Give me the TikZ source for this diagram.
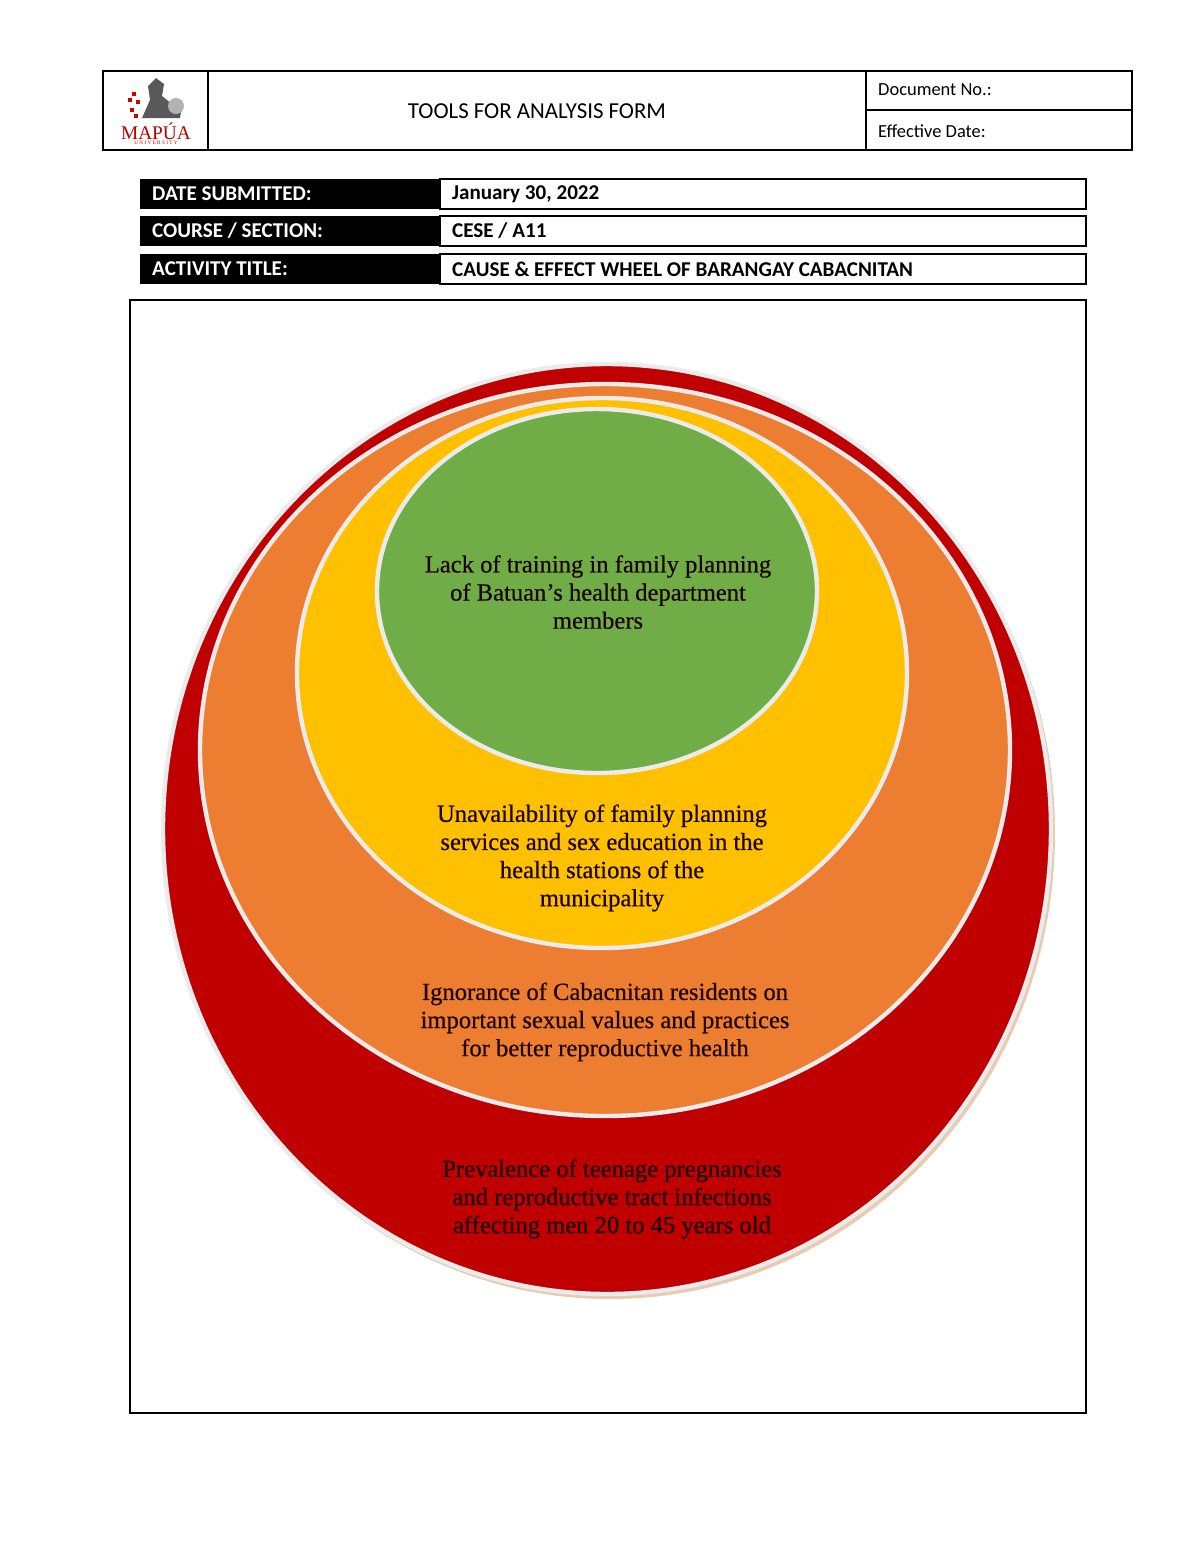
\documentclass[tikz,border=0pt]{standalone}
\usepackage{fontspec}
\setmainfont{Carlito}
\newfontfamily\serifc{Liberation Serif}
\newfontfamily\serifm[FakeBold=0.6]{Liberation Serif}
\definecolor{cred}{HTML}{C00000}
\definecolor{corange}{HTML}{ED7D31}
\definecolor{cyellow}{HTML}{FFC000}
\definecolor{cgreen}{HTML}{70AD47}
\definecolor{ctext}{HTML}{1E0505}
\begin{document}
\begin{tikzpicture}[x=0.02cm,y=-0.02cm,
  lab/.style={font=\serifm\fontsize{14}{16}\selectfont, text=ctext, align=center},
  ring/.style={draw=white!92!black, line width=2.5pt},
  hdr/.style={font=\fontsize{10.5}{12}\selectfont, anchor=west},
  wht/.style={draw=black, line width=1.2pt},
  info/.style={font=\fontsize{12}{14}\selectfont\bfseries, anchor=west}]
\useasboundingbox (0,0) rectangle (1200,1553);
\fill[white] (0,0) rectangle (1200,1553);
% header
\draw[line width=1.2pt] (103,71) rectangle (1132,150);
\draw[line width=1.2pt] (208,71) -- (208,150) (866,71) -- (866,150) (866,110) -- (1132,110);
\node[font=\fontsize{13}{15}\selectfont] (title) at (537,111) {TOOLS FOR ANALYSIS FORM};
\node[hdr] (docno) at (872,90) {Document No.:};
\node[hdr] (eff) at (872,131) {Effective Date:};
% logo
\fill[gray!70!black] (142,118) -- (150,100) -- (148,86) -- (156,78) -- (164,84) -- (162,96) -- (172,104) -- (182,106) -- (180,118) -- cycle;
\fill[gray!60] (176,106) circle (8);
\foreach \i/\j in {132/92,136/100,130/108,134/114,128/98} \fill[red!80!black] (\i,\j) rectangle ++(4,4);
\node[font=\serifc\fontsize{11}{11}\selectfont, text=red!75!black, inner sep=0pt] (logo) at (156,131) {MAPÚA};
\node[font=\serifc\fontsize{3}{3}\selectfont, text=red!75!black, inner sep=0pt] (logo2) at (156,143) {U N I V E R S I T Y};
% info rows
\foreach \y/\a/\b [count=\k] in {179/{DATE SUBMITTED:}/{January 30, 2022},216/{COURSE / SECTION:}/{CESE / A11},254/{ACTIVITY TITLE:}/{CAUSE \& EFFECT WHEEL OF BARANGAY CABACNITAN}}{
  \fill[black] (140,\y) rectangle (440,\y+30);
  \draw[wht] (440,\y) rectangle (1086,\y+30);
  \node[info, text=white] (l\k) at (146,\y+15) {\a};
  \node[info] (v\k) at (446,\y+15) {\b};
}
% frame
\draw[line width=0.8pt] (130,300) rectangle (1086,1413);
% rings
\fill[brown!40] (610,833) ellipse (445 and 466);
\draw[ring, fill=cred] (607,829) ellipse (444 and 465);
\draw[ring, fill=corange] (605,750) ellipse (405 and 366);
\draw[ring, fill=cyellow] (602,673) ellipse (305 and 275);
\draw[ring, fill=cgreen] (597,591) ellipse (220 and 182);
\node[lab] (t1) at (598,592) {Lack of training in family planning\\of Batuan’s health department\\members};
\node[lab] (t2) at (602,858) {Unavailability of family planning\\services and sex education in the\\health stations of the\\municipality};
\node[lab] (t3) at (605,1022) {Ignorance of Cabacnitan residents on\\important sexual values and practices\\for better reproductive health};
\node[lab] (t4) at (612,1199) {Prevalence of teenage pregnancies\\and reproductive tract infections\\affecting men 20 to 45 years old};
\end{tikzpicture}
\end{document}
